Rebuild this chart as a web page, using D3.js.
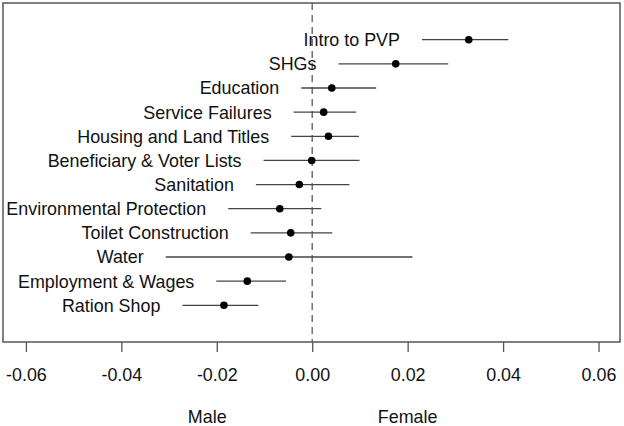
<!DOCTYPE html>
<html>
<head>
<meta charset="utf-8">
<script src="https://cdn.jsdelivr.net/npm/d3@7"></script>
<style>
  html, body { margin: 0; padding: 0; background: #fff; }
  svg { display: block; }
</style>
</head>
<body>
<div id="coefplot"></div>
<script>
// Topics, bottom row first (row 1 = Ration Shop)
const topics = ["Ration Shop", "Employment & Wages", "Water", "Toilet Construction",
  "Environmental Protection", "Sanitation", "Beneficiary & Voter Lists",
  "Housing and Land Titles", "Service Failures", "Education", "SHGs", "Intro to PVP"];
const estimates = [-0.0185, -0.0136, -0.0049, -0.0045, -0.0068, -0.0027, -0.0001,
  0.0034, 0.0024, 0.0041, 0.0175, 0.0328];
const lower = [-0.0272, -0.0201, -0.0307, -0.0129, -0.0176, -0.0118, -0.0102,
  -0.0044, -0.0039, -0.0023, 0.0055, 0.0230];
const upper = [-0.0113, -0.0055, 0.0210, 0.0042, 0.0019, 0.0078, 0.0099,
  0.0098, 0.0092, 0.0134, 0.0285, 0.0411];
const xTicks = [-0.06, -0.04, -0.02, 0.00, 0.02, 0.04, 0.06];
const sideLabels = [{ text: "Male", at: -0.022 }, { text: "Female", at: 0.02 }];

const width = 624, height = 426;
const boxLeft = 3, boxRight = 620, boxTop = 3, boxBottom = 342;
const font = "'Liberation Sans', Arial, sans-serif";
const fontSize = 17.9;

const x = d3.scaleLinear([-0.0648, 0.0645], [boxLeft, boxRight]);
const y = d3.scaleLinear([-0.52, 13.52], [boxBottom, boxTop]);

const rows = topics.map((t, i) => ({ topic: t, est: estimates[i], lo: lower[i], hi: upper[i], row: i + 1 }));

const svg = d3.select("#coefplot").append("svg")
  .attr("width", width)
  .attr("height", height)
  .attr("viewBox", [0, 0, width, height])
  .attr("font-family", font)
  .attr("font-size", fontSize);

// zero reference line
svg.append("line")
  .attr("x1", x(0)).attr("x2", x(0))
  .attr("y1", boxTop).attr("y2", boxBottom)
  .attr("stroke", "#707070")
  .attr("stroke-width", 1.5)
  .attr("stroke-dasharray", "7,5");

// confidence intervals
svg.append("g")
  .selectAll("line")
  .data(rows)
  .join("line")
  .attr("x1", d => x(d.lo))
  .attr("x2", d => x(d.hi))
  .attr("y1", d => y(d.row))
  .attr("y2", d => y(d.row))
  .attr("stroke", "#444")
  .attr("stroke-width", 1.3);

// point estimates
svg.append("g")
  .selectAll("circle")
  .data(rows)
  .join("circle")
  .attr("cx", d => x(d.est))
  .attr("cy", d => y(d.row))
  .attr("r", 3.8)
  .attr("fill", "#000");

// topic labels, right-aligned just left of each interval
svg.append("g")
  .selectAll("text")
  .data(rows)
  .join("text")
  .attr("x", d => x(d.lo) - 22)
  .attr("y", d => y(d.row))
  .attr("dy", "0.36em")
  .attr("text-anchor", "end")
  .attr("fill", "#111")
  .text(d => d.topic);

// plot box
svg.append("rect")
  .attr("x", boxLeft).attr("y", boxTop)
  .attr("width", boxRight - boxLeft)
  .attr("height", boxBottom - boxTop)
  .attr("fill", "none")
  .attr("stroke", "#555")
  .attr("stroke-width", 1.5);

// x axis
const gx = svg.append("g")
  .attr("transform", `translate(0,${boxBottom})`)
  .call(d3.axisBottom(x)
    .tickValues(xTicks)
    .tickFormat(d3.format(".2f"))
    .tickSize(10)
    .tickPadding(16));
gx.select(".domain").remove();
gx.selectAll(".tick line").attr("stroke", "#555").attr("stroke-width", 1.3);
gx.selectAll(".tick text")
  .attr("font-family", font)
  .attr("font-size", fontSize)
  .attr("fill", "#111")
  .text(d => d3.format(".2f")(d).replace("−", "-"));

// side labels under the axis
svg.append("g")
  .selectAll("text")
  .data(sideLabels)
  .join("text")
  .attr("x", d => x(d.at))
  .attr("y", 423)
  .attr("text-anchor", "middle")
  .attr("fill", "#111")
  .text(d => d.text);
</script>
</body>
</html>
